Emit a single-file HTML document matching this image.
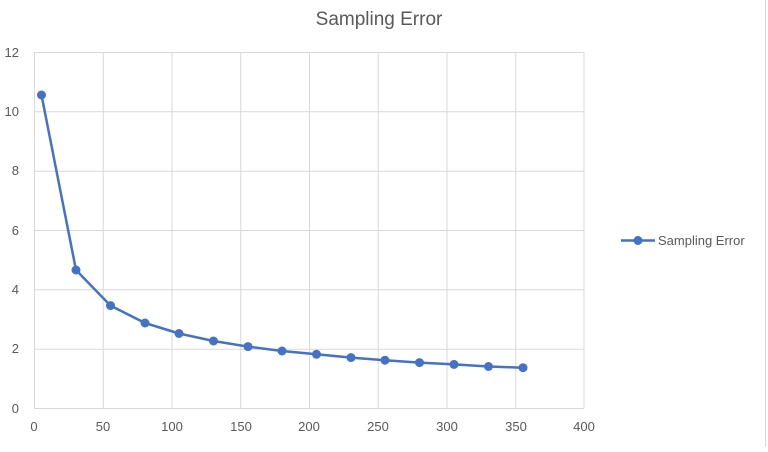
<!DOCTYPE html>
<html><head><style>
html,body{margin:0;padding:0;background:#fff;}
svg text{font-family:"Liberation Sans",sans-serif;}
</style></head><body>
<svg width="768" height="447" viewBox="0 0 768 447" xmlns="http://www.w3.org/2000/svg">
<rect width="768" height="447" fill="#fff"/>
<line x1="765.5" y1="0" x2="765.5" y2="447" stroke="#d9d9d9" stroke-width="1"/>
<text x="379" y="25" font-size="19" fill="#595959" text-anchor="middle">Sampling Error</text>
<g stroke="#d9d9d9" stroke-width="1">
<line x1="34" y1="52.5" x2="584" y2="52.5"/>
<line x1="34" y1="111.8" x2="584" y2="111.8"/>
<line x1="34" y1="171.2" x2="584" y2="171.2"/>
<line x1="34" y1="230.5" x2="584" y2="230.5"/>
<line x1="34" y1="289.8" x2="584" y2="289.8"/>
<line x1="34" y1="349.2" x2="584" y2="349.2"/>
<line x1="34" y1="408.5" x2="584" y2="408.5"/>
<line x1="34.5" y1="52" x2="34.5" y2="408"/>
<line x1="103.25" y1="52" x2="103.25" y2="408"/>
<line x1="172" y1="52" x2="172" y2="408"/>
<line x1="240.75" y1="52" x2="240.75" y2="408"/>
<line x1="309.5" y1="52" x2="309.5" y2="408"/>
<line x1="378.25" y1="52" x2="378.25" y2="408"/>
<line x1="447" y1="52" x2="447" y2="408"/>
<line x1="515.75" y1="52" x2="515.75" y2="408"/>
<line x1="584" y1="52" x2="584" y2="408"/>
</g>
<g font-size="13" fill="#595959" text-anchor="end">
<text x="19" y="57">12</text>
<text x="19" y="116">10</text>
<text x="19" y="175">8</text>
<text x="19" y="235">6</text>
<text x="19" y="294">4</text>
<text x="19" y="353">2</text>
<text x="19" y="413">0</text>
</g>
<g font-size="13" fill="#595959" text-anchor="middle">
<text x="34" y="431">0</text>
<text x="103" y="431">50</text>
<text x="172" y="431">100</text>
<text x="241" y="431">150</text>
<text x="309" y="431">200</text>
<text x="378" y="431">250</text>
<text x="447" y="431">300</text>
<text x="516" y="431">350</text>
<text x="584" y="431">400</text>
</g>
<polyline fill="none" stroke="#4472c4" stroke-width="2.5" stroke-linejoin="round" points="41.5,95 76,270 110.5,305.6 145,323 179,333.5 213.5,341 248,346.6 282,351 316.5,354.3 351,357.6 385,360.2 419.5,362.6 454,364.4 488.5,366.5 523,367.7"/>
<g fill="#4472c4">
<circle cx="41.5" cy="95" r="4.5"/><circle cx="76" cy="270" r="4.5"/><circle cx="110.5" cy="305.6" r="4.5"/><circle cx="145" cy="323" r="4.5"/><circle cx="179" cy="333.5" r="4.5"/><circle cx="213.5" cy="341" r="4.5"/><circle cx="248" cy="346.6" r="4.5"/><circle cx="282" cy="351" r="4.5"/><circle cx="316.5" cy="354.3" r="4.5"/><circle cx="351" cy="357.6" r="4.5"/><circle cx="385" cy="360.2" r="4.5"/><circle cx="419.5" cy="362.6" r="4.5"/><circle cx="454" cy="364.4" r="4.5"/><circle cx="488.5" cy="366.5" r="4.5"/><circle cx="523" cy="367.7" r="4.5"/>
</g>
<line x1="621" y1="240.5" x2="655" y2="240.5" stroke="#4472c4" stroke-width="2.5"/>
<circle cx="638" cy="240.5" r="4.5" fill="#4472c4"/>
<text x="658" y="245" font-size="13" fill="#595959">Sampling Error</text>
</svg>
</body></html>
